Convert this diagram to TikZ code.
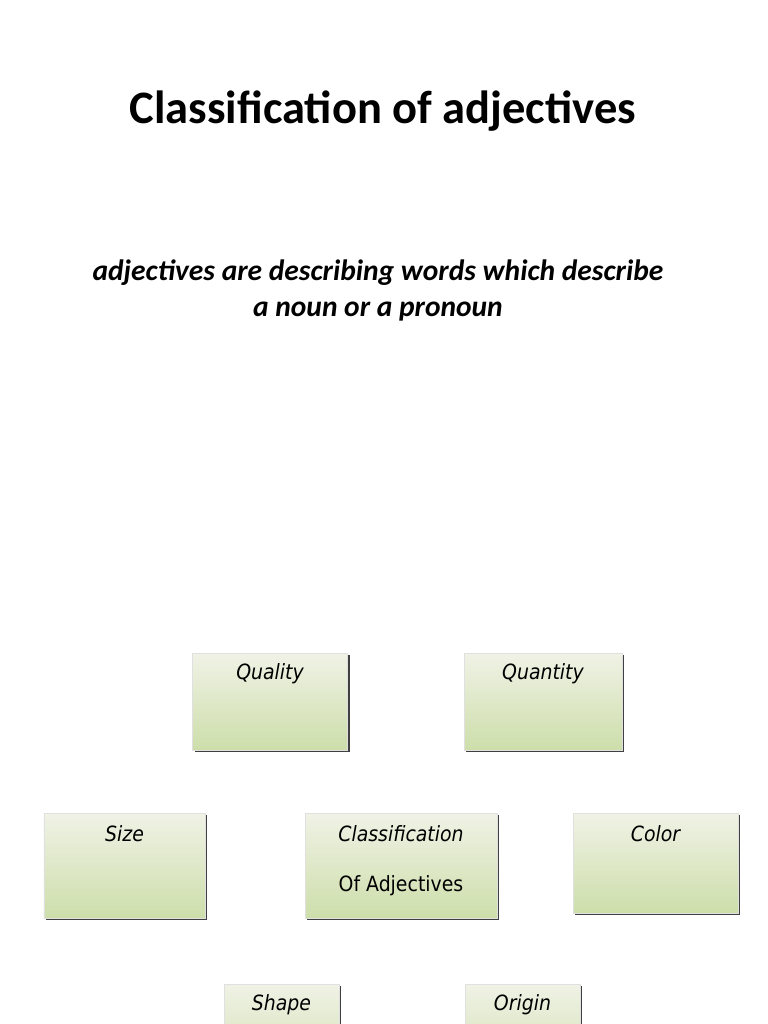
\documentclass[tikz,border=0pt]{standalone}
\usepackage{fontspec}
\setmainfont{Carlito}
\newfontfamily\boxfont{DejaVu Sans Condensed}[ItalicFont={DejaVu Sans Condensed Oblique}]
\usetikzlibrary{positioning}
\definecolor{boxtop}{RGB}{240,242,230}
\definecolor{boxbot}{RGB}{205,222,170}

\begin{document}
\begin{tikzpicture}[x=1bp,y=-1bp]
\tikzstyle{kind}=[shape=rectangle,draw=black!12,thin,top color=boxtop,bottom color=boxbot,
  preaction={fill=black!75,transform canvas={xshift=2bp,yshift=-2bp}},
  minimum width=155bp,minimum height=97bp,inner sep=0pt]
\tikzstyle{kindtext}=[font=\boxfont\itshape\fontsize{21bp}{24bp}\selectfont,text=black,anchor=center,inner sep=0pt]

\useasboundingbox[fill=white] (0,0) rectangle (768,1024);

% title and definition
\node (title) [font=\bfseries\fontsize{46.5bp}{54bp}\selectfont] at (383,111) {Classification of adjectives};
\node (defn) [align=center,font=\bfseries\itshape\fontsize{29.5bp}{36bp}\selectfont] at (378,290) {adjectives are describing words which describe\\ a noun or a pronoun};

% boxes
\node[kind]		(quality) at (270,701.5) {};
\node[kind,minimum width=158bp]	(quantity) at (543,701.5) {};
\node[kind,minimum width=161bp,minimum height=105bp]	(size) at (124.5,865.5) {};
\node[kind,minimum width=192bp,minimum height=105bp]	(centre) at (401,865.5) {};
\node[kind,minimum width=165bp,minimum height=100bp]	(color) at (655.5,863) {};
\node[kind,minimum width=115bp,minimum height=100bp]	(shape) at (281.5,1034) {};
\node[kind,minimum width=115bp,minimum height=100bp]	(origin) at (522.5,1034) {};

% labels
\node[kindtext]	(qualityL) [below=21bp of quality.north,anchor=center] {Quality};
\node[kindtext]	(quantityL) [below=21bp of quantity.north,anchor=center] {Quantity};
\node[kindtext]	(sizeL) [below=21bp of size.north,anchor=center] {Size};
\node[kindtext]	(centreA) [below=21bp of centre.north,anchor=center] {Classification};
\node[kindtext,font=\boxfont\fontsize{21bp}{24bp}\selectfont]	(centreB) [below=73bp of centre.north,anchor=center] {Of Adjectives};
\node[kindtext]	(colorL) [below=21bp of color.north,anchor=center] {Color};
\node[kindtext]	(shapeL) [below=21bp of shape.north,anchor=center] {Shape};
\node[kindtext]	(originL) [below=21bp of origin.north,anchor=center] {Origin};
\end{tikzpicture}
\end{document}
